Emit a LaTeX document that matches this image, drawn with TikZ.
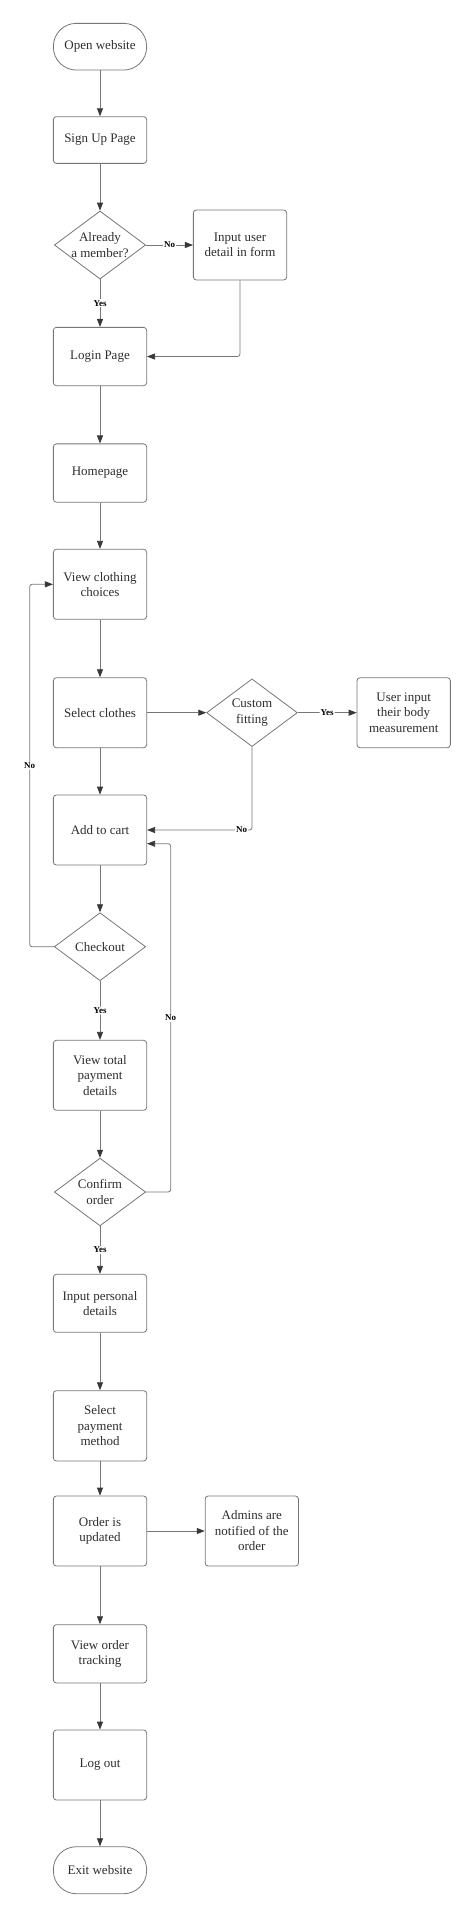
\documentclass[tikz,border=0pt]{standalone}
\usepackage{fontspec}
\setmainfont{Liberation Serif}
\usetikzlibrary{arrows.meta, shapes.geometric, positioning}
\definecolor{linegray}{RGB}{118, 118, 118}
\definecolor{tipdark}{RGB}{55, 55, 60}
\definecolor{textdark}{RGB}{45, 45, 45}

\begin{document}
\begin{tikzpicture}[
  x=1pt, y=-1pt,
  box/.style={rectangle, draw=linegray, rounded corners=3pt, line width=0.8pt, minimum width=93.3pt,
              text=textdark, font=\fontsize{13}{15.5}\selectfont, align=center, inner sep=2pt},
  terminal/.style={box, rounded corners=23pt},
  decision/.style={diamond, draw=linegray, line width=0.8pt, aspect=1.34, minimum width=91.3pt,
              minimum height=68pt, inner sep=-3pt, text=textdark, font=\fontsize{13}{15.5}\selectfont, align=center},
  arr/.style={-{Triangle[length=8pt, width=6pt, color=tipdark]}, draw=linegray, line width=0.8pt, rounded corners=2.5pt},
  tag/.style={fill=white, inner sep=1pt, text=black, font=\fontsize{9}{9}\selectfont\bfseries}
]
  \useasboundingbox (0,0) rectangle (474,1917);

  \node[terminal, minimum height=46.7pt] (open) at (100,46.7) {Open website};
  \node[box, minimum height=46.7pt] (signup) at (100,140) {Sign Up Page};
  \node[decision] (member) at (100,245) {Already\\a member?};
  \node[box, minimum height=70pt] (userform) at (240,245) {Input user\\detail in form};
  \node[box, minimum height=58.3pt] (login) at (100,356.5) {Login Page};
  \node[box, minimum height=58.3pt] (home) at (100,473) {Homepage};
  \node[box, minimum height=70pt] (browse) at (100,584.3) {View clothing\\choices};
  \node[box, minimum height=70pt] (select) at (100,712.7) {Select clothes};
  \node[decision, minimum width=90.7pt, minimum height=67.7pt] (fitting) at (252,712.7) {Custom\\fitting};
  \node[box, minimum height=70pt] (measure) at (403.7,712.7) {User input\\their body\\measurement};
  \node[box, minimum height=70pt] (cart) at (100,830) {Add to cart};
  \node[decision] (checkout) at (100,946.7) {Checkout};
  \node[box, minimum height=70pt] (total) at (100,1075.3) {View total\\payment\\details};
  \node[decision, minimum height=67.7pt] (confirm) at (100,1192) {Confirm\\order};
  \node[box, minimum height=58pt] (personal) at (100,1303.3) {Input personal\\details};
  \node[box, minimum height=70.3pt] (paymethod) at (100,1425.8) {Select\\payment\\method};
  \node[box, minimum height=70pt] (updated) at (100,1531) {Order is\\updated};
  \node[box, minimum height=70pt] (admins) at (251.8,1531) {Admins are\\notified of the\\order};
  \node[box, minimum height=58.3pt] (tracking) at (100,1653.8) {View order\\tracking};
  \node[box, minimum height=70pt] (logout) at (100,1765) {Log out};
  \node[terminal, minimum height=47pt] (exit) at (100,1870.2) {Exit website};

  % main flow
  \draw[arr] (open) -- (signup);
  \draw[arr] (signup) -- (member);
  \draw[arr] (member) -- node[tag] {Yes} (login);
  \draw[arr] (member) -- node[tag] {No} (userform);
  \draw[arr] (userform) |- (login);
  \draw[arr] (login) -- (home);
  \draw[arr] (home) -- (browse);
  \draw[arr] (browse) -- (select);
  \draw[arr] (select) -- (fitting);
  \draw[arr] (fitting) -- node[tag] {Yes} (measure);
  \draw[arr] (fitting) |- (cart) node[tag, pos=0.55] {No};
  \draw[arr] (select) -- (cart);
  \draw[arr] (cart) -- (checkout);
  \draw[arr] (checkout.west) -- ++(-24.3,0) |- (browse.west) node[tag, pos=0.25] {No};
  \draw[arr] (checkout) -- node[tag] {Yes} (total);
  \draw[arr] (total) -- (confirm);
  \draw[arr] (confirm.east) -- ++(24.6,0) |- ([yshift=-13.7pt]cart.east) node[tag, pos=0.25] {No};
  \draw[arr] (confirm) -- node[tag] {Yes} (personal);
  \draw[arr] (personal) -- (paymethod);
  \draw[arr] (paymethod) -- (updated);
  \draw[arr] (updated) -- (admins);
  \draw[arr] (updated) -- (tracking);
  \draw[arr] (tracking) -- (logout);
  \draw[arr] (logout) -- (exit);
\end{tikzpicture}
\end{document}
